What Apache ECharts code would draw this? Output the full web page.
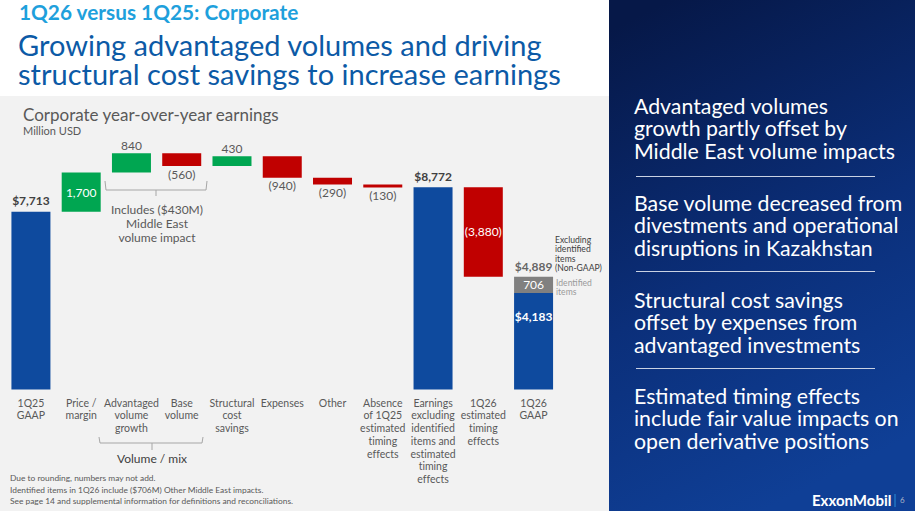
<!DOCTYPE html>
<html lang="en">
<head>
<meta charset="UTF-8">
<title>1Q26 versus 1Q25: Corporate</title>
<script src="https://cdn.jsdelivr.net/npm/echarts@6/dist/echarts.min.js"></script>
<style>
  html, body { margin: 0; padding: 0; background: #ffffff; }
  #main { width: 915px; height: 511px; }
  #main svg text { font-variant-ligatures: none; }
</style>
</head>
<body>
<div id="main"></div>
<script type="text/javascript">
// waterfall data (million USD)
var categories = ['1Q25\nGAAP', 'Price /\nmargin', 'Advantaged\nvolume\ngrowth', 'Base\nvolume',
    'Structural\ncost\nsavings', 'Expenses', 'Other', 'Absence\nof 1Q25\nestimated\ntiming\neffects',
    'Earnings\nexcluding\nidentified\nitems and\nestimated\ntiming\neffects',
    '1Q26\nestimated\ntiming\neffects', '1Q26\nGAAP'];
var amounts = [7713, 1700, 840, -560, 430, -940, -290, -130, 8772, -3880, 4183];
var kinds = ['total', 'delta', 'delta', 'delta', 'delta', 'delta', 'delta', 'delta', 'total', 'delta', 'total'];
var labelPlace = ['top', 'inside', 'top', 'bottom', 'top', 'bottom', 'bottom', 'bottom', 'top', 'inside', 'insideTop'];
var identifiedItems = [null, null, null, null, null, null, null, null, null, null, 706];
var nonGaapTotal = 4889;

var bullets = [
    ['Advantaged volumes', 'growth partly offset by', 'Middle East volume impacts'],
    ['Base volume decreased from', 'divestments and operational', 'disruptions in Kazakhstan'],
    ['Structural cost savings', 'offset by expenses from', 'advantaged investments'],
    ['Estimated timing effects', 'include fair value impacts on', 'open derivative positions']
];
var footnotes = [
    'Due to rounding, numbers may not add.',
    'Identified items in 1Q26 include ($706M) Other Middle East impacts.',
    'See page 14 and supplemental information for definitions and reconciliations.'
];
var nonGaapNote = ['Excluding', 'identified', 'items', '(Non-GAAP)'];
var identifiedNote = ['Identified', 'items'];

var FONT = 'Lato';
var TXT = '#595959';
var BLUE = '#0e4a9e', GREEN = '#00a651', RED = '#c00000', GREY = '#808080';

function fmt(v) {
    var s = Math.abs(v).toLocaleString('en-US');
    return v < 0 ? '(' + s + ')' : s;
}

// build stacked pieces from running level
var base = [], totals = [], ups = [], downs = [];
var level = 0;
amounts.forEach(function (v, i) {
    if (kinds[i] === 'total') {
        base.push('-'); totals.push(v); ups.push('-'); downs.push('-');
        level = v;
    } else if (v >= 0) {
        base.push(level); ups.push(v); downs.push('-'); totals.push('-');
        level += v;
    } else {
        level += v;
        base.push(level); downs.push(-v); ups.push('-'); totals.push('-');
    }
});

function itemLabel(i, isTotal) {
    var place = labelPlace[i];
    var inside = place.indexOf('inside') === 0;
    return {
        show: true,
        position: place,
        distance: isTotal ? (inside ? 17 : 5) : (inside ? 0 : 2),
        color: inside ? '#ffffff' : (isTotal ? '#404040' : TXT),
        fontWeight: isTotal ? 'bold' : 'normal',
        fontSize: 12,
        fontFamily: FONT,
        formatter: function () { return isTotal ? '$' + amounts[i].toLocaleString('en-US') : fmt(amounts[i]); }
    };
}

function wrap(arr, isTotal) {
    return arr.map(function (v, i) {
        if (v === '-') return '-';
        return { value: v, label: itemLabel(i, isTotal) };
    });
}

var graphics = [
    { type: 'rect', shape: { x: 0, y: 96, width: 609, height: 415 }, style: { fill: '#f2f2f2' }, z: -10 },
    { type: 'rect', shape: { x: 609, y: 0, width: 306, height: 511 }, z: -10,
      style: { fill: new echarts.graphic.LinearGradient(0.2, 0, 0.5, 1, [
          { offset: 0, color: '#061848' }, { offset: 0.55, color: '#0b2f7a' }, { offset: 1, color: '#0f3f96' }]) } },
    { type: 'text', x: 19, y: 11, style: { text: '1Q26 versus 1Q25: Corporate', fill: '#1ea0dc', font: 'bold 20.8px ' + FONT, verticalAlign: 'middle' } },
    { type: 'text', x: 18, y: 44, style: { text: 'Growing advantaged volumes and driving', fill: '#0c5aa6', font: '29px ' + FONT, verticalAlign: 'middle' } },
    { type: 'text', x: 18, y: 73, style: { text: 'structural cost savings to increase earnings', fill: '#0c5aa6', font: '29px ' + FONT, verticalAlign: 'middle' } },
    { type: 'text', x: 23, y: 114, style: { text: 'Corporate year-over-year earnings', fill: TXT, font: '17px ' + FONT, verticalAlign: 'middle' } },
    { type: 'text', x: 23, y: 130, style: { text: 'Million USD', fill: TXT, font: '11px ' + FONT, verticalAlign: 'middle' } },
    // bracket under advantaged / base bars
    { type: 'polyline', shape: { points: [[105, 181], [106, 190], [206, 190], [207, 181]] }, style: { stroke: '#a6a6a6', lineWidth: 1, fill: null } },
    { type: 'line', shape: { x1: 156, y1: 190, x2: 156, y2: 196 }, style: { stroke: '#a6a6a6', lineWidth: 1 } },
    { type: 'text', x: 157, y: 223, style: { text: 'Includes ($430M)\nMiddle East\nvolume impact', fill: TXT, font: '12px ' + FONT, align: 'center', verticalAlign: 'middle', lineHeight: 14 } },
    // bracket under axis labels
    { type: 'polyline', shape: { points: [[99, 437], [100, 443], [202, 443], [203, 437]] }, style: { stroke: '#a6a6a6', lineWidth: 1, fill: null } },
    { type: 'line', shape: { x1: 152, y1: 443, x2: 152, y2: 450 }, style: { stroke: '#a6a6a6', lineWidth: 1 } },
    { type: 'text', x: 152, y: 458, style: { text: 'Volume / mix', fill: '#404040', font: '12px ' + FONT, align: 'center', verticalAlign: 'middle' } },
    // logo
    { type: 'text', x: 812, y: 500, style: { text: 'ExxonMobil', fill: '#ffffff', font: 'bold 15px ' + FONT, verticalAlign: 'middle' } },
    { type: 'line', shape: { x1: 895, y1: 494, x2: 895, y2: 507 }, style: { stroke: '#2a8fd8', lineWidth: 1 } },
    { type: 'text', x: 900, y: 500, style: { text: '6', fill: '#aab4c8', font: '8px ' + FONT, verticalAlign: 'middle' } }
];

// side notes at 1Q26 GAAP, one text per line
nonGaapNote.forEach(function (t, i) {
    graphics.push({ type: 'text', x: 555, y: 240 + i * 9.4, style: { text: t, fill: '#404040', font: '8.6px ' + FONT, verticalAlign: 'middle' } });
});
identifiedNote.forEach(function (t, i) {
    graphics.push({ type: 'text', x: 556, y: 283 + i * 9.4, style: { text: t, fill: '#9a9a9a', font: '8.6px ' + FONT, verticalAlign: 'middle' } });
});

footnotes.forEach(function (t, i) {
    graphics.push({ type: 'text', x: 10, y: 478 + i * 11.5, style: { text: t, fill: TXT, font: '8.4px ' + FONT, verticalAlign: 'middle' } });
});

var bulletTop = [105.5, 202.5, 299.5, 395.5];
var sepY = [176.5, 271.5, 368.5];
bullets.forEach(function (lines, b) {
    lines.forEach(function (t, j) {
        graphics.push({ type: 'text', x: 634, y: bulletTop[b] + j * 22.5,
            style: { text: t, fill: '#ffffff', font: '21.3px ' + FONT, verticalAlign: 'middle' } });
    });
});
sepY.forEach(function (y) {
    graphics.push({ type: 'line', shape: { x1: 636, y1: y, x2: 875, y2: y }, style: { stroke: '#c9d2e3', lineWidth: 1 } });
});

var UMAP = echarts.init(document.getElementById('main'), null, { renderer: 'svg' });
var option = {
    animation: false,
    backgroundColor: '#ffffff',
    textStyle: { fontFamily: FONT },
    grid: { left: 5.8, right: 356.3, top: 112.9, bottom: 121.6 },
    xAxis: {
        type: 'category',
        data: categories,
        axisLine: { show: false },
        axisTick: { show: false },
        axisLabel: { interval: 0, color: TXT, fontSize: 10.5, lineHeight: 12.7, margin: 7, fontFamily: FONT, verticalAlign: 'top' }
    },
    yAxis: { type: 'value', min: 0, max: 12000, show: false, splitLine: { show: false } },
    graphic: graphics,
    series: [
        { name: 'base', type: 'bar', stack: 'w', barWidth: 39, data: base, itemStyle: { color: 'transparent' }, silent: true },
        { name: 'total', type: 'bar', stack: 'w', data: wrap(totals, true), itemStyle: { color: BLUE } },
        { name: 'up', type: 'bar', stack: 'w', data: wrap(ups, false), itemStyle: { color: GREEN } },
        { name: 'down', type: 'bar', stack: 'w', data: wrap(downs, false), itemStyle: { color: RED } },
        { name: 'identified', type: 'bar', stack: 'w', data: identifiedItems.map(function (v) { return v === null ? '-' : v; }),
          itemStyle: { color: GREY },
          label: { show: true, position: 'inside', color: '#ffffff', fontSize: 12, fontFamily: FONT } },
        { name: 'nonGaap', type: 'scatter', symbolSize: 1, itemStyle: { color: 'transparent' },
          data: [[categories.length - 1, nonGaapTotal]],
          label: { show: true, position: 'top', distance: 4, color: '#404040', fontWeight: 'bold', fontSize: 12, fontFamily: FONT,
                   formatter: function (p) { return '$' + p.value[1].toLocaleString('en-US'); } } }
    ]
};
UMAP.setOption(option);
</script>
</body>
</html>
